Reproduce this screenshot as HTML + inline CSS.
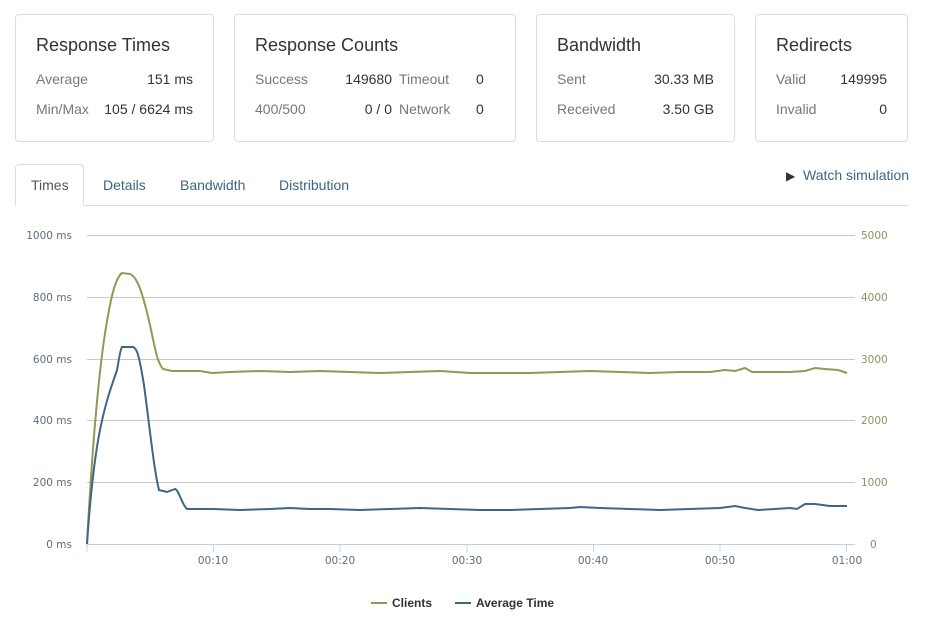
<!DOCTYPE html>
<html><head><meta charset="utf-8"><style>
body{margin:0;width:941px;height:633px;background:#fff;font-family:"Liberation Sans",sans-serif;position:relative;overflow:hidden}
.card{position:absolute;top:14px;height:128px;border:1px solid #ddd;border-radius:4px;box-sizing:border-box}
.card h3{position:absolute;left:20px;top:20px;margin:0;font-size:18px;font-weight:normal;color:#333}
.t{position:absolute;font-size:14px;color:#777}
.v{position:absolute;font-size:14px;color:#333;text-align:right}
.tab{position:absolute;top:177px;font-size:14px;color:#3d6581}
</style></head><body>
<div class="card" style="left:15px;width:199px"><h3>Response Times</h3>
<span class="t" style="left:20px;top:56px">Average</span><span class="v" style="right:20px;top:56px">151 ms</span>
<span class="t" style="left:20px;top:86px">Min/Max</span><span class="v" style="right:20px;top:86px">105 / 6624 ms</span></div>
<div class="card" style="left:234px;width:282px"><h3>Response Counts</h3>
<span class="t" style="left:20px;top:56px">Success</span><span class="v" style="left:95px;width:62px;top:56px">149680</span><span class="t" style="left:164px;top:56px">Timeout</span><span class="v" style="left:241px;top:56px">0</span>
<span class="t" style="left:20px;top:86px">400/500</span><span class="v" style="left:95px;width:62px;top:86px">0 / 0</span><span class="t" style="left:164px;top:86px">Network</span><span class="v" style="left:241px;top:86px">0</span></div>
<div class="card" style="left:536px;width:199px"><h3>Bandwidth</h3>
<span class="t" style="left:20px;top:56px">Sent</span><span class="v" style="right:20px;top:56px">30.33 MB</span>
<span class="t" style="left:20px;top:86px">Received</span><span class="v" style="right:20px;top:86px">3.50 GB</span></div>
<div class="card" style="left:755px;width:153px"><h3>Redirects</h3>
<span class="t" style="left:20px;top:56px">Valid</span><span class="v" style="right:20px;top:56px">149995</span>
<span class="t" style="left:20px;top:86px">Invalid</span><span class="v" style="right:20px;top:86px">0</span></div>
<div style="position:absolute;left:15px;top:205px;width:893px;border-top:1px solid #ddd"></div>
<div style="position:absolute;left:15px;top:164px;width:69px;height:42px;border:1px solid #ddd;border-bottom:1px solid #fff;border-radius:4px 4px 0 0;background:#fff;box-sizing:border-box"></div>
<span class="tab" style="left:31px;color:#555">Times</span>
<span class="tab" style="left:103px">Details</span>
<span class="tab" style="left:180px">Bandwidth</span>
<span class="tab" style="left:279px">Distribution</span>
<span style="position:absolute;left:786px;top:167px;font-size:14px;color:#3d6581"><span style="color:#333;font-size:12px">&#9654;</span>&nbsp; Watch simulation</span>
<svg width="941" height="633" style="position:absolute;left:0;top:0" font-family="DejaVu Sans,sans-serif" font-size="10.5">
<g stroke="#c8c8c8" stroke-width="1">
<line x1="87" x2="855" y1="235.5" y2="235.5"/><line x1="87" x2="855" y1="297.5" y2="297.5"/><line x1="87" x2="855" y1="359.5" y2="359.5"/><line x1="87" x2="855" y1="420.5" y2="420.5"/><line x1="87" x2="855" y1="482.5" y2="482.5"/><line x1="87" x2="855" y1="544.5" y2="544.5" stroke="#c0d0e0"/>
<line x1="87" x2="87" y1="544" y2="552" stroke="#c0d0e0"/><line x1="213.5" x2="213.5" y1="544" y2="552" stroke="#c0d0e0"/><line x1="340" x2="340" y1="544" y2="552" stroke="#c0d0e0"/><line x1="467" x2="467" y1="544" y2="552" stroke="#c0d0e0"/><line x1="593.5" x2="593.5" y1="544" y2="552" stroke="#c0d0e0"/><line x1="720" x2="720" y1="544" y2="552" stroke="#c0d0e0"/><line x1="846.5" x2="846.5" y1="544" y2="552" stroke="#c0d0e0"/>
</g>
<g fill="#606c7c" text-anchor="end"><text x="72" y="239">1000 ms</text><text x="72" y="301">800 ms</text><text x="72" y="363">600 ms</text><text x="72" y="424">400 ms</text><text x="72" y="486">200 ms</text><text x="72" y="548">0 ms</text></g>
<g fill="#8a9360"><text x="861" y="239">5000</text><text x="861" y="301">4000</text><text x="861" y="363">3000</text><text x="861" y="424">2000</text><text x="861" y="486">1000</text><text x="870" y="548">0</text></g>
<g fill="#606c7c" text-anchor="middle"><text x="213" y="564">00:10</text><text x="340" y="564">00:20</text><text x="467" y="564">00:30</text><text x="593" y="564">00:40</text><text x="720" y="564">00:50</text><text x="847" y="564">01:00</text></g>
<path fill="none" stroke="#8d9b55" stroke-width="2" d="M87,544 C92,450 97,390 104,340 C110,300 115,278 122,273 L130,274 C137,277 142,290 150,325 C155,348 157,362 163,369 L172,371 L200,371 L212,373 L230,372 L260,371 L290,372 L320,371 L350,372 L380,373 L410,372 L440,371 L470,373 L500,373 L530,373 L560,372 L590,371 L620,372 L650,373 L680,372 L710,372 L725,370 L735,371 L745,368 L752,372 L770,372 L790,372 L805,371 L815,368 L825,369 L838,370 L847,373"/>
<path fill="none" stroke="#416585" stroke-width="2" d="M87,544 C90,500 94,460 100,430 C106,400 112,385 117,370 C119,360 120,350 122,347 L133,347 C137,348 139,355 144,385 C150,430 154,470 159,490 L167,492 L175,489 C179,490 182,505 187,509 L213,509 L240,510 L270,509 L290,508 L310,509 L330,509 L360,510 L390,509 L420,508 L450,509 L480,510 L510,510 L540,509 L570,508 L580,507 L600,508 L630,509 L660,510 L690,509 L720,508 L735,506 L745,508 L758,510 L775,509 L790,508 L797,509 L805,504 L815,504 L830,506 L847,506"/>
<line x1="371" x2="387" y1="603" y2="603" stroke="#8d9b55" stroke-width="2"/>
<text x="392" y="607" fill="#333" font-weight="bold" font-family="Liberation Sans,sans-serif" font-size="12">Clients</text>
<line x1="455" x2="471" y1="603" y2="603" stroke="#416585" stroke-width="2"/>
<text x="476" y="607" fill="#333" font-weight="bold" font-family="Liberation Sans,sans-serif" font-size="12">Average Time</text>
</svg>
</body></html>
